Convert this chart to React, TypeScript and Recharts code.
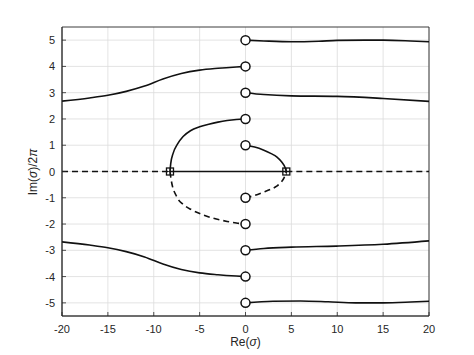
import React from "react";
import { ComposedChart, Line, Scatter, XAxis, YAxis, CartesianGrid, ReferenceArea } from "recharts";

const xTicks = [-20, -15, -10, -5, 0, 5, 10, 15, 20];
const yTicks = [-5, -4, -3, -2, -1, 0, 1, 2, 3, 4, 5];

const branchTop = [
  { x: 0, y: 5 }, { x: 2, y: 4.97 }, { x: 5, y: 4.94 }, { x: 8, y: 4.96 }, { x: 10, y: 4.99 },
  { x: 13, y: 5.0 }, { x: 15, y: 5.0 }, { x: 18, y: 4.97 }, { x: 20, y: 4.94 },
];
const branchFourLeft = [
  { x: -20, y: 2.68 }, { x: -17, y: 2.8 }, { x: -15, y: 2.9 }, { x: -13, y: 3.05 }, { x: -11, y: 3.25 },
  { x: -9, y: 3.52 }, { x: -7, y: 3.73 }, { x: -5, y: 3.86 }, { x: -3, y: 3.93 }, { x: -1, y: 3.98 }, { x: 0, y: 4.0 },
];
const branchThreeRight = [
  { x: 0, y: 3 }, { x: 2, y: 2.93 }, { x: 5, y: 2.88 }, { x: 10, y: 2.86 }, { x: 15, y: 2.78 }, { x: 20, y: 2.67 },
];
const loopLeftUpper = [
  { x: -8.23, y: 0 }, { x: -8.15, y: 0.3 }, { x: -7.9, y: 0.68 }, { x: -7.4, y: 1.05 }, { x: -6.8, y: 1.33 },
  { x: -6, y: 1.55 }, { x: -5, y: 1.7 }, { x: -4, y: 1.8 }, { x: -3, y: 1.88 }, { x: -2, y: 1.94 }, { x: -1, y: 1.98 }, { x: 0, y: 2 },
];
const loopLeftLower = [
  { x: -8.23, y: 0 }, { x: -8.1, y: -0.32 }, { x: -7.5, y: -0.96 }, { x: -6.8, y: -1.25 },
  { x: -5.86, y: -1.46 }, { x: -4.7, y: -1.64 }, { x: -3.5, y: -1.78 }, { x: -2, y: -1.9 }, { x: -1, y: -1.96 }, { x: 0, y: -2 },
];
const loopRightUpper = [
  { x: 0, y: 1 }, { x: 1, y: 0.93 }, { x: 1.94, y: 0.82 }, { x: 2.8, y: 0.68 }, { x: 3.4, y: 0.56 },
  { x: 3.95, y: 0.36 }, { x: 4.3, y: 0.16 }, { x: 4.45, y: 0 },
];
const loopRightLower = [
  { x: 0, y: -1 }, { x: 1, y: -0.91 }, { x: 1.94, y: -0.79 }, { x: 2.8, y: -0.67 }, { x: 3.4, y: -0.56 },
  { x: 3.85, y: -0.42 }, { x: 4.2, y: -0.24 }, { x: 4.45, y: 0 },
];
const branchMinusThreeRight = [
  { x: 0, y: -3 }, { x: 2, y: -2.93 }, { x: 5, y: -2.88 }, { x: 9.9, y: -2.84 }, { x: 15, y: -2.77 }, { x: 20, y: -2.64 },
];
const branchMinusFourLeft = [
  { x: -20, y: -2.68 }, { x: -17, y: -2.8 }, { x: -15, y: -2.9 }, { x: -13, y: -3.05 }, { x: -11, y: -3.25 },
  { x: -9, y: -3.52 }, { x: -7, y: -3.73 }, { x: -5, y: -3.86 }, { x: -3, y: -3.93 }, { x: -1, y: -3.98 }, { x: 0, y: -4.0 },
];
const branchBottom = [
  { x: 0, y: -5 }, { x: 3, y: -4.94 }, { x: 6, y: -4.93 }, { x: 9, y: -4.96 }, { x: 12, y: -5.0 },
  { x: 15, y: -5.0 }, { x: 18, y: -4.97 }, { x: 20, y: -4.94 },
];
const axisDashedLeft = [{ x: -20, y: 0 }, { x: -8.23, y: 0 }];
const axisSolid = [{ x: -8.23, y: 0 }, { x: 4.45, y: 0 }];
const axisDashedRight = [{ x: 4.45, y: 0 }, { x: 20, y: 0 }];

const circlePoints = [
  { x: 0, y: 5 }, { x: 0, y: 4 }, { x: 0, y: 3 }, { x: 0, y: 2 }, { x: 0, y: 1 },
  { x: 0, y: -1 }, { x: 0, y: -2 }, { x: 0, y: -3 }, { x: 0, y: -4 }, { x: 0, y: -5 },
];
const squarePoints = [{ x: -8.23, y: 0 }, { x: 4.45, y: 0 }];

const FONT = '"Liberation Sans", Arial, Helvetica, sans-serif';
const INK = "#262626";
const LINE = "#111111";

const BottomTick = (p: any) => (
  <g>
    <line x1={p.x} y1={p.y} x2={p.x} y2={p.y - 4} stroke={INK} strokeWidth={0.8} />
    <text x={p.x} y={p.y + 17} textAnchor="middle" fontFamily={FONT} fontSize={11} fill={INK}>
      {p.payload.value}
    </text>
  </g>
);
const TopTick = (p: any) => (
  <line x1={p.x} y1={p.y} x2={p.x} y2={p.y + 4} stroke={INK} strokeWidth={0.8} />
);
const LeftTick = (p: any) => (
  <g>
    <line x1={p.x} y1={p.y} x2={p.x + 4} y2={p.y} stroke={INK} strokeWidth={0.8} />
    <text x={p.x - 7} y={p.y + 4} textAnchor="end" fontFamily={FONT} fontSize={11} fill={INK}>
      {p.payload.value}
    </text>
  </g>
);
const RightTick = (p: any) => (
  <line x1={p.x} y1={p.y} x2={p.x - 4} y2={p.y} stroke={INK} strokeWidth={0.8} />
);

const CircleShape = (p: any) => (
  <circle cx={p.cx} cy={p.cy} r={4.5} fill="#fff" stroke={LINE} strokeWidth={1.5} />
);
const SquareShape = (p: any) => (
  <g>
    <rect x={p.cx - 3.5} y={p.cy - 3.5} width={7} height={7} fill="none" stroke={LINE} strokeWidth={1.3} />
    <line x1={p.cx - 3.5} y1={p.cy} x2={p.cx + 3.5} y2={p.cy} stroke={LINE} strokeWidth={0.8} />
    <line x1={p.cx} y1={p.cy - 3.5} x2={p.cx} y2={p.cy + 3.5} stroke={LINE} strokeWidth={0.8} />
  </g>
);

const solidCurves = [branchTop, branchFourLeft, branchThreeRight, loopLeftUpper, loopRightUpper, branchMinusThreeRight, branchMinusFourLeft, branchBottom, axisSolid];
const dashedCurves = [loopLeftLower, loopRightLower, axisDashedLeft, axisDashedRight];

export default function App() {
  return (
    <div style={{ position: "absolute", left: 0, top: 0, width: 474, height: 355, background: "#fff" }}>
      <ComposedChart width={474} height={355} margin={{ top: 27, right: 45, bottom: 9, left: 22 }}>
        <CartesianGrid stroke="#dcdcdc" strokeWidth={0.8} verticalValues={xTicks} horizontalValues={yTicks} />
        <ReferenceArea x1={-20} x2={20} y1={-5.5} y2={5.5} fill="none" fillOpacity={0} stroke={INK} strokeWidth={0.9} ifOverflow="visible" />
        <XAxis
          xAxisId={0}
          dataKey="x"
          type="number"
          domain={[-20, 20]}
          ticks={xTicks}
          allowDataOverflow
          height={30}
          tickSize={0}
          tickMargin={0}
          tickLine={false}
          axisLine={{ stroke: INK, strokeWidth: 0.8 }}
          tick={<BottomTick />}
          label={{
            content: () => (
              <text x={245.5} y={346} textAnchor="middle" fontFamily={FONT} fontSize={12} fill={INK}>
                Re(<tspan fontStyle="italic">σ</tspan>)
              </text>
            ),
          }}
        />
        <XAxis
          xAxisId="top"
          orientation="top"
          dataKey="x"
          type="number"
          domain={[-20, 20]}
          ticks={xTicks}
          allowDataOverflow
          height={0}
          tickSize={0}
          tickMargin={0}
          tickLine={false}
          axisLine={{ stroke: INK, strokeWidth: 0.8 }}
          tick={<TopTick />}
        />
        <YAxis
          yAxisId={0}
          type="number"
          domain={[-5.5, 5.5]}
          ticks={yTicks}
          allowDataOverflow
          width={40}
          tickSize={0}
          tickMargin={0}
          tickLine={false}
          axisLine={{ stroke: INK, strokeWidth: 0.8 }}
          tick={<LeftTick />}
          label={{
            content: () => (
              <text
                x={37}
                y={172}
                textAnchor="middle"
                transform="rotate(-90, 37, 172)"
                fontFamily={FONT}
                fontSize={12}
                fill={INK}
              >
                Im(<tspan fontStyle="italic">σ</tspan>)/2<tspan fontStyle="italic">π</tspan>
              </text>
            ),
          }}
        />
        <YAxis
          yAxisId="right"
          orientation="right"
          type="number"
          domain={[-5.5, 5.5]}
          ticks={yTicks}
          allowDataOverflow
          width={0}
          tickSize={0}
          tickMargin={0}
          tickLine={false}
          axisLine={{ stroke: INK, strokeWidth: 0.8 }}
          tick={<RightTick />}
        />
        {solidCurves.map((d, i) => (
          <Line
            key={"s" + i}
            data={d}
            dataKey="y"
            type="monotone"
            stroke={LINE}
            strokeWidth={1.6}
            dot={false}
            activeDot={false}
            isAnimationActive={false}
          />
        ))}
        {dashedCurves.map((d, i) => (
          <Line
            key={"d" + i}
            data={d}
            dataKey="y"
            type="monotone"
            stroke={LINE}
            strokeWidth={1.6}
            strokeDasharray="6 4"
            dot={false}
            activeDot={false}
            isAnimationActive={false}
          />
        ))}
        <Scatter data={circlePoints} dataKey="y" xAxisId="top" yAxisId="right" shape={<CircleShape />} isAnimationActive={false} />
        <Scatter data={squarePoints} dataKey="y" shape={<SquareShape />} isAnimationActive={false} />
      </ComposedChart>
    </div>
  );
}
